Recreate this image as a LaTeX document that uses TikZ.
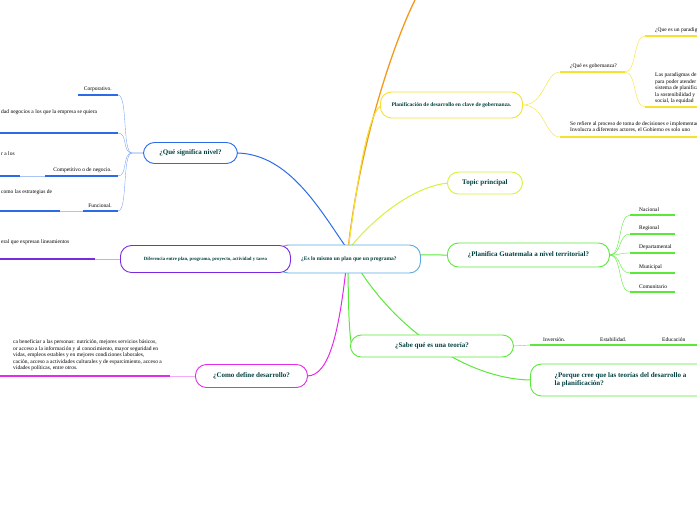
\documentclass[tikz,border=0pt]{standalone}
\usepackage{fontspec}
\setmainfont{Liberation Serif}
\begin{document}
\begin{tikzpicture}[x=1pt,y=-1pt,
 box/.style={draw,rounded corners=11pt,line width=0.9pt,fill=white,font=\bfseries\color{teal!50!black},inner sep=4pt,anchor=west},
 lab/.style={font=\fontsize{5.5}{6.5}\selectfont,anchor=south west,inner sep=1pt,align=left},
 ul/.style={line width=1.4pt}]
\useasboundingbox (0,0) rectangle (697,520);
\definecolor{kb}{HTML}{2B6BE8}\definecolor{ky}{HTML}{F5E22E}\definecolor{kg}{HTML}{5BE83A}
\definecolor{kmag}{HTML}{E42BE8}\definecolor{kpur}{HTML}{7A2BE0}\definecolor{kor}{HTML}{F39A1E}
\definecolor{kl}{HTML}{5AA9E0}\definecolor{kyg}{HTML}{D8F03A}
\coordinate (c) at (348,250);
% branches
\draw[kor,line width=1.3pt] (c) .. controls (360,140) and (395,40) .. (415,0);
\draw[ky,line width=1pt] (c) .. controls (360,160) and (370,110) .. (382,105);
\draw[kyg,line width=1pt] (c) .. controls (380,210) and (420,185) .. (449,183);
\draw[kg,line width=1pt] (c) .. controls (400,255) and (420,255) .. (449,255);
\draw[kg,line width=1pt] (c) .. controls (348,320) and (350,340) .. (352,346);
\draw[kg,line width=1pt] (c) .. controls (390,330) and (470,380) .. (532,380);
\draw[kmag,line width=1pt] (c) .. controls (340,330) and (330,376) .. (307,376);
\draw[kpur,line width=1pt] (c) -- (290,258);
\draw[kb,line width=1pt] (c) .. controls (320,210) and (290,155) .. (238,153);
% center
\node[box,draw=kl,minimum height=28pt,minimum width=143pt,font=\bfseries\fontsize{5.5}{6}\selectfont\color{teal!50!black}] (ctr) at (277,259) {¿Es lo mismo un plan que un programa?};
% yellow
\node[box,draw=ky,minimum height=26pt,minimum width=142pt,font=\bfseries\fontsize{5.5}{6}\selectfont\color{teal!50!black}] (plan) at (380,105) {Planificación de desarrollo en clave de gobernanza.};
\draw[ky,ul] (560,72) -- (625,72); \node[lab] (gob) at (569,70) {¿Qué es gobernanza?};
\draw[ky] (plan.east) .. controls (545,105) and (545,72) .. (560,72);
\draw[ky] (plan.east) .. controls (545,105) and (545,137) .. (560,137);
\draw[ky,ul] (560,137) -- (697,137); \node[lab] (ref) at (569,134) {Se refiere al proceso de toma de decisiones e implementación\\Involucra a diferentes actores, el Gobierno es solo uno};
\draw[ky,ul] (645,36) -- (697,36); \node[lab] (par) at (654,34) {¿Que es un paradigma?};
\draw[ky,ul] (645,107) -- (697,107); \node[lab] (las) at (654,105) {Las paradigmas de\\para poder atender\\sistema de planificación\\la sostenibilidad y\\social, la equidad};
\draw[ky] (625,72) .. controls (637,72) and (633,36) .. (645,36);
\draw[ky] (625,72) .. controls (637,72) and (633,107) .. (645,107);
% topic
\node[box,draw=kyg,minimum height=22pt,minimum width=75pt,font=\bfseries\fontsize{7}{8}\selectfont\color{teal!50!black}] (top) at (447,183) {Topic principal};
% guatemala
\node[box,draw=kg,minimum height=24pt,minimum width=162pt,font=\bfseries\fontsize{7}{8}\selectfont\color{teal!50!black}] (gua) at (447,255) {¿Planifica Guatemala a nivel territorial?};
\foreach \t/\y in {Nacional/215,Regional/234,Departamental/253,Municipal/273,Comunitario/292}{
 \draw[kg,ul] (630,\y) -- (675,\y); \node[lab] at (638,\y-2) {\t};
 \draw[kg] (gua.east) .. controls (622,255) and (618,\y) .. (630,\y);}
% teoria
\node[box,draw=kg,minimum height=22pt,minimum width=163pt,font=\bfseries\fontsize{7}{8}\selectfont\color{teal!50!black}] (teo) at (350,346) {¿Sabe qué es una teoría?};
\draw[kg,ul] (530,345) -- (697,345);
\draw[kg] (teo.east) .. controls (522,346) and (522,345) .. (530,345);
\node[lab] at (542,343) {Inversión.}; \node[lab] at (599,343) {Estabilidad.}; \node[lab] at (661,343) {Educación};
\node[box,draw=kg,minimum height=32pt,minimum width=180pt,align=left,font=\bfseries\fontsize{7}{8}\selectfont\color{teal!50!black}] (porq) at (530,380) {¿Porque cree que las teorías del desarrollo a\\la planificación?};
% desarrollo
\node[box,draw=kmag,minimum height=23pt,minimum width=112pt,font=\bfseries\fontsize{7}{8}\selectfont\color{teal!50!black}] (des) at (195,376) {¿Como define desarrollo?};
\draw[kmag,ul] (0,376) -- (170,376); \draw[kmag!40] (170,376) -- (des.west);
\node[lab,anchor=south east] at (163,372) {ca beneficiar a las personas: nutrición, mejores servicios básicos,\\or acceso a la información y al conocimiento, mayor seguridad en\\vidas, empleos estables y en mejores condiciones laborales,\\cación, acceso a actividades culturales y de esparcimiento, acceso a\\vidades políticas, entre otros.};
% diferencia
\node[box,draw=kpur,minimum height=27pt,minimum width=170pt,font=\bfseries\fontsize{4.8}{5}\selectfont\color{teal!50!black}] (dif) at (120,259) {Diferencia entre plan, programa, proyecto, actividad y tarea};
\draw[kpur,ul] (0,259) -- (95,259); \draw[kpur!40] (95,259) -- (dif.west);
\node[lab] at (0,246) {eral que expresan lineamientos};
% nivel
\node[box,draw=kb,minimum height=21pt,minimum width=94pt,font=\bfseries\fontsize{7}{8}\selectfont\color{teal!50!black}] (niv) at (143,153) {¿Qué significa nivel?};
\foreach \y in {95,133,176,211}{\draw[kb!60] (niv.west) -- (132,153) .. controls (122,153) and (128,\y) .. (118,\y);}
\draw[kb,ul] (78,95) -- (118,95); \node[lab,anchor=south east] at (113,93) {Corporativo.};
\draw[kb,ul] (0,133) -- (118,133); \node[lab] at (0,116) {dad negocios a los que la empresa se quiera};
\draw[kb,ul] (0,176) -- (20,176); \draw[kb!40] (20,176) -- (45,176); \draw[kb,ul] (45,176) -- (118,176);
\node[lab] at (0,157) {r a los}; \node[lab,anchor=south east] at (113,174) {Competitivo o de negocio.};
\draw[kb,ul] (0,211) -- (60,211); \draw[kb!40] (60,211) -- (83,211); \draw[kb,ul] (83,211) -- (118,211);
\node[lab] at (0,196) {como las estrategias de}; \node[lab,anchor=south east] at (113,209) {Funcional.};
\end{tikzpicture}
\end{document}
